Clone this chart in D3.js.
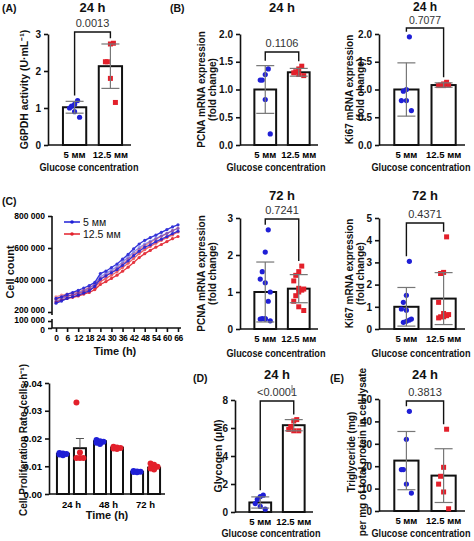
<!DOCTYPE html><html><head><meta charset="utf-8">
<script src="https://cdn.jsdelivr.net/npm/d3@7"></script>
<style>body{margin:0;background:#fff}text{font-family:"Liberation Sans",Arial,sans-serif}</style></head><body>
<svg id="s" width="474" height="541"></svg>
<script>
const BLUE="#1f1fd6", RED="#e3202b";
const groups=["5 мм","12.5 мм"];
const g6pd5=[1.2,1.1,1.05,1.0,0.9,0.75], g6pd12=[2.75,2.73,2.25,2.25,1.8,1.15], g6pdMean=[1.02,2.13], g6pdSD=[0.16,0.6];
const pcna24_5=[1.37,1.27,1.17,1.17,0.82,0.2], pcna24_12=[1.42,1.37,1.32,1.3,1.27,1.25], pcna24Mean=[1.0,1.31], pcna24SD=[0.43,0.07];
const ki24_5=[1.95,1.0,0.97,0.8,0.8,0.62], ki24_12=[1.13,1.1,1.08,1.07,1.07,1.08], ki24Mean=[1.0,1.08], ki24SD=[0.48,0.04];
const pcna72_5=[2.68,2.08,1.55,1.35,1.25,1.0,0.75,0.28,0.28,0.27,0.27,0.22], pcna72_12=[1.7,1.55,1.45,1.3,1.1,1.08,1.05,1.0,0.9,0.75,0.6,0.5], pcna72Mean=[1.0,1.09], pcna72SD=[0.81,0.38];
const ki72_5=[3.05,1.52,1.2,0.9,0.85,0.45,0.4,0.35,0.3], ki72_12=[4.15,2.55,2.5,1.2,0.7,0.65,0.6,0.55,0.55,0.5], ki72Mean=[1.0,1.37], ki72SD=[0.87,1.17];
const gly5=[1.2,1.1,0.9,0.6,0.4,0.2], gly12=[6.6,6.5,6.1,5.9,5.8,5.8], glyMean=[0.68,6.2], glySD=[0.4,0.4];
const tg5=[44.5,32,18.5,18.5,12,8], tg12=[36.5,19.5,15.5,12,8.5,1], tgMean=[22.5,15.8], tgSD=[13,12];
const hours=[0,3,6,9,12,15,18,21,24,27,30,33,36,39,42,45,48,51,54,57,60,63,66];
const blueHi=[285,295,310,322,335,350,365,385,440,455,478,500,530,560,595,625,648,665,680,698,715,732,745];
const blueMid=[268,282,298,308,320,332,348,372,420,440,462,483,512,542,575,602,625,642,660,676,692,708,722];
const blueLo=[255,268,285,295,305,318,332,360,405,425,445,465,492,520,552,580,605,620,640,655,672,690,705];
const redHi=[295,305,312,318,326,338,352,372,410,430,450,472,500,530,560,590,615,635,655,673,690,708,725];
const redMid=[280,292,300,306,315,326,338,355,390,410,430,452,478,505,535,565,590,610,630,648,665,682,700];
const redLo=[262,275,285,292,300,312,322,340,372,390,410,430,455,480,510,540,565,585,605,622,640,658,672];
const times=["24 h","48 h","72 h"];
const rate5=[0.0145,0.019,0.008], rate12=[0.0165,0.0167,0.0095], rate12SD=[0.0035,0,0];
const rate5pts=[[0.0148,0.0146,0.0144,0.0142,0.014],[0.0195,0.019,0.0188,0.0185,0.018],[0.0083,0.0081,0.008,0.0079,0.0078]];
const rate12pts=[[0.033,0.015,0.013,0.013,0.013],[0.017,0.0168,0.0166,0.0164,0.0162],[0.011,0.0105,0.0098,0.0092,0.0088]];

const svg=d3.select("#s");
function txt(x,y,s,o={}){const t=svg.append("text").attr("x",x).attr("y",y).attr("text-anchor",o.a||"middle").attr("font-size",o.fs||11).attr("font-weight",o.fw||"bold").attr("fill",o.c||"#111").text(s);if(o.rot)t.attr("transform",`rotate(-90,${x},${y})`);if(o.len)t.attr("textLength",o.len).attr("lengthAdjust","spacingAndGlyphs");return t;}
function jit(i){const k=i%3;return (k-1)*5*(i%2?1:-0.6);}

function panel(c){
  const y=d3.scaleLinear().domain(c.dom).range([c.y0,c.y1]);
  const x=d3.scaleBand().domain(groups).range([c.ax+6,c.ax+6+c.w]).paddingInner(0.35).paddingOuter(0.25);
  const g=svg.append("g");
  const ay=g.append("g").attr("transform",`translate(${c.ax},0)`).call(d3.axisLeft(y).tickValues(c.ticks).tickFormat(c.fmt||d3.format("d")).tickSize(4).tickSizeOuter(0));
  ay.selectAll("text").attr("font-size",10).attr("font-weight","bold").attr("fill","#111");
  ay.selectAll("line,path").attr("stroke","#111").attr("stroke-width",1.6);
  g.append("line").attr("x1",c.ax).attr("x2",c.ax+6+c.w).attr("y1",c.y0).attr("y2",c.y0).attr("stroke","#111").attr("stroke-width",1.6);
  groups.forEach((gr,i)=>{
    const bx=x(gr),bw=x.bandwidth(),cx=bx+bw/2;
    g.append("rect").attr("x",bx).attr("y",y(c.mean[i])).attr("width",bw).attr("height",c.y0-y(c.mean[i])).attr("fill","#fff").attr("stroke","#111").attr("stroke-width",2);
    g.append("text").attr("x",cx).attr("y",c.y0+13).attr("text-anchor","middle").attr("font-size",9.5).attr("font-weight","bold").text(gr);
    const pts=c.pts[i];
    pts.forEach((v,j)=>g.append(i?"rect":"circle").call(s=>{const px=cx+jit(j),py=y(v);if(i)s.attr("x",px-2.5).attr("y",py-2.5).attr("width",5).attr("height",5).attr("fill",RED);else s.attr("cx",px).attr("cy",py).attr("r",2.6).attr("fill",BLUE);}));
    const lo=Math.max(c.dom[0],c.mean[i]-c.sd[i]),hi=c.mean[i]+c.sd[i];
    g.append("line").attr("x1",cx).attr("x2",cx).attr("y1",y(lo)).attr("y2",y(hi)).attr("stroke","#777").attr("stroke-width",1.2);
    [lo,hi].forEach(v=>g.append("line").attr("x1",cx-9).attr("x2",cx+9).attr("y1",y(v)).attr("y2",y(v)).attr("stroke","#777").attr("stroke-width",1.2));
  });
  const c1=x(groups[0])+x.bandwidth()/2,c2=x(groups[1])+x.bandwidth()/2;
  const t1=Math.min(y(d3.max(c.pts[0])),y(c.mean[0]+c.sd[0]))-5, t2=Math.min(y(d3.max(c.pts[1])),y(c.mean[1]+c.sd[1]))-5;
  g.append("path").attr("d",`M${c1},${t1}V${c.by}H${c2}V${t2}`).attr("fill","none").attr("stroke","#111").attr("stroke-width",1.4);
  txt((c1+c2)/2,c.by-(c.pg||5),c.p,{fw:"normal",fs:c.pfs||11,c:"#333"});
  txt((c1+c2)/2,c.ty,c.title,{fs:c.tfs||13});
  txt(c.xlx,c.xl,"Glucose concentration",{fs:10.5,len:99});
  c.ylab.forEach((l,k)=>txt(c.ylx[k],c.ylc||(c.y0+c.y1)/2,l,{rot:1,fs:c.yfs||10.5}));
}
const f1=d3.format(".1f");
panel({ax:48,w:77,y0:145,y1:34,dom:[0,3],ticks:[0,1,2,3],mean:g6pdMean,sd:g6pdSD,pts:[g6pd5,g6pd12],by:32,p:"0.0013",title:"24 h",ty:12,xl:171,xlx:89,ylab:["G6PDH activity (U·mL⁻¹)"],ylx:[28]});
panel({ax:240,w:72,y0:145,y1:34,dom:[0,2],ticks:[0,0.5,1,1.5,2],fmt:f1,mean:pcna24Mean,sd:pcna24SD,pts:[pcna24_5,pcna24_12],by:52,p:"0.1106",title:"24 h",ty:12,xl:171,xlx:276,ylab:["PCNA mRNA expression","(fold change)"],ylx:[205,216],yfs:10});
panel({ax:379,w:80,y0:145,y1:34,dom:[0,2],ticks:[0,0.5,1,1.5,2],fmt:f1,mean:ki24Mean,sd:ki24SD,pts:[ki24_5,ki24_12],by:28,pg:4,pfs:10.5,p:"0.7077",title:"24 h",ty:11,tfs:12,xl:171,xlx:421,ylab:["Ki67 mRNA expression","(fold change)"],ylx:[353,364],yfs:10});
panel({ax:240,w:72,y0:329,y1:218,dom:[0,3],ticks:[0,1,2,3],mean:pcna72Mean,sd:pcna72SD,pts:[pcna72_5,pcna72_12],by:219,p:"0.7241",title:"72 h",ty:200,xl:357,xlx:276,ylab:["PCNA mRNA expression","(fold change)"],ylx:[205,216],yfs:10});
panel({ax:379,w:80,y0:329,y1:218,dom:[0,5],ticks:[0,1,2,3,4,5],mean:ki72Mean,sd:ki72SD,pts:[ki72_5,ki72_12],by:223,p:"0.4371",title:"72 h",ty:200,xl:357,xlx:421,ylab:["Ki67 mRNA expression","(fold change)"],ylx:[353,364],yfs:10});
panel({ax:235,w:72,y0:512,y1:400,dom:[0,8],ticks:[0,2,4,6,8],mean:glyMean,sd:glySD,pts:[gly5,gly12],by:401,p:"<0.0001",title:"24 h",ty:379,xl:537,xlx:271,ylab:["Glycogen (μM)"],ylx:[222]});
panel({ax:379,w:80,y0:511,y1:399,dom:[0,50],ticks:[0,10,20,30,40,50],mean:tgMean,sd:tgSD,pts:[tg5,tg12],by:401,p:"0.3813",title:"24 h",ty:379,xl:537,xlx:421,ylab:["Triglyceride (mg)","per mg of total protein in cell lysate"],ylx:[355,366],yfs:10,ylc:452});
svg.append("line").attr("x1",292).attr("x2",292).attr("y1",385).attr("y2",393).attr("stroke","#777");

txt(2,12,"(A)",{a:"start",fs:10.5});txt(170,12,"(B)",{a:"start",fs:10.5});txt(2,205,"(C)",{a:"start",fs:10.5});
txt(193,382,"(D)",{a:"start",fs:10.5});txt(330,382,"(E)",{a:"start",fs:10.5});

{
 const x=d3.scaleLinear().domain([0,66]).range([56,178]);
 const y=d3.scaleLinear().domain([200,800]).range([312,216]);
 const y2=d3.scaleLinear().domain([0,100]).range([328,321]);
 const fmt=d=>d3.format(",")(d*1000).replace(/,/g," ");
 const ay=svg.append("g").attr("transform","translate(52,0)").call(d3.axisLeft(y).tickValues([200,400,600,800]).tickFormat(fmt).tickSize(4).tickSizeOuter(0));
 const ay2=svg.append("g").attr("transform","translate(52,0)").call(d3.axisLeft(y2).tickValues([0,100]).tickFormat(fmt).tickSize(4).tickSizeOuter(0));
 [ay,ay2].forEach(a=>{a.selectAll("text").attr("font-size",8.5).attr("font-weight","bold");a.selectAll("line,path").attr("stroke","#111").attr("stroke-width",1.6);});
 ay.selectAll("text").filter(d=>d===200).attr("dy","0.1em");
 ay2.selectAll("text").filter(d=>d===100).attr("dy","0.15em");
 ay2.selectAll("text").filter(d=>d===0).attr("dy","0.5em");
 ay.select(".domain").attr("d","M-0,216V315");ay2.select(".domain").attr("d","M-0,319V328");
 const ax=svg.append("g").attr("transform","translate(0,328)").call(d3.axisBottom(x).tickValues(d3.range(0,67,6)).tickSize(4).tickSizeOuter(0));
 ax.select(".domain").attr("d","M52,0H181");
 ax.selectAll("text").attr("font-size",8.5).attr("font-weight","bold").attr("letter-spacing","-0.4");ax.selectAll("line,path").attr("stroke","#111").attr("stroke-width",1.6);
 const line=d3.line().x((d,i)=>x(hours[i])).y(d=>y(d));
 [[redHi,RED,0.5],[redMid,RED,0.7],[redLo,RED,0.9],[blueLo,BLUE,0.9],[blueMid,BLUE,0.5],[blueHi,BLUE,0.9]].forEach(([s,col,op])=>{
   const g=svg.append("g").attr("opacity",op);
   g.append("path").attr("d",line(s)).attr("fill","none").attr("stroke",col).attr("stroke-width",1.3);
   g.selectAll("circle").data(s).join("circle").attr("cx",(d,i)=>x(hours[i])).attr("cy",d=>y(d)).attr("r",1.6).attr("fill",col);
 });
 [[BLUE,"5 мм",222],[RED,"12.5 мм",234]].forEach(([c,l,yy])=>{svg.append("line").attr("x1",64).attr("x2",80).attr("y1",yy).attr("y2",yy).attr("stroke",c).attr("stroke-width",1.5);svg.append("circle").attr("cx",72).attr("cy",yy).attr("r",1.8).attr("fill",c);txt(83,yy+4,l,{a:"start",fw:"normal",fs:10.5});});
 txt(115,355,"Time (h)",{fs:11});txt(14,272,"Cell count",{rot:1,fs:11});
}
{
 const y=d3.scaleLinear().domain([0,0.04]).range([494,383]);
 const x=d3.scaleBand().domain(times).range([52,165]).paddingInner(0.15).paddingOuter(0.1);
 const ay=svg.append("g").attr("transform","translate(49,0)").call(d3.axisLeft(y).tickValues([0,0.01,0.02,0.03,0.04]).tickFormat(d3.format(".2f")).tickSize(4).tickSizeOuter(0));
 const ax=svg.append("g").attr("transform","translate(0,494)").call(d3.axisBottom(x).tickSize(0));
 ax.select(".domain").attr("d","M49,0H165");
 [ay,ax].forEach(a=>{a.selectAll("text").attr("font-size",9.5).attr("font-weight","bold");a.selectAll("line,path").attr("stroke","#111").attr("stroke-width",1.6);});
 ax.selectAll("text").attr("dy","1.2em");
 times.forEach((t,i)=>{
   const cx=x(t)+x.bandwidth()/2;
   [[rate5,rate5pts,-1,BLUE],[rate12,rate12pts,1,RED]].forEach(([m,p,side,col])=>{
     const bx=cx+side*8.5-6;
     svg.append("rect").attr("x",bx).attr("y",y(m[i])).attr("width",12).attr("height",494-y(m[i])).attr("fill","#fff").attr("stroke","#111").attr("stroke-width",2);
     p[i].forEach((v,j)=>svg.append("circle").attr("cx",bx+6+(j%3-1)*3.5).attr("cy",y(v)).attr("r",3).attr("fill",col));
   });
   if(rate12SD[i]>0){const ex=cx+8.5;svg.append("path").attr("d",`M${ex},${y(rate12[i])}V${y(rate12[i]+rate12SD[i])}M${ex-4},${y(rate12[i]+rate12SD[i])}H${ex+4}`).attr("stroke","#555").attr("fill","none");}
 });
 txt(107,519,"Time (h)",{fs:11});txt(27,440,"Cell Proliferation Rate (cells·h⁻¹)",{rot:1,fs:10});
}
</script></body></html>
